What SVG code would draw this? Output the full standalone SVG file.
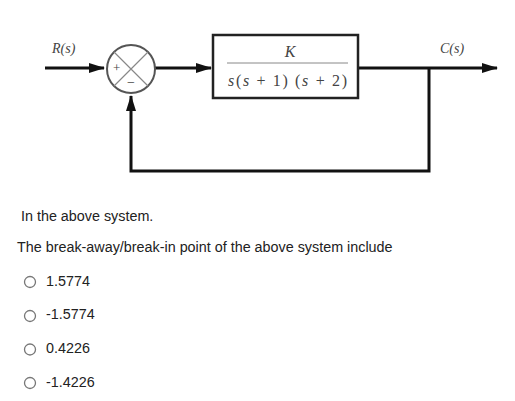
<svg xmlns="http://www.w3.org/2000/svg" width="515" height="401" viewBox="0 0 515 401">
<defs>
<marker id="ah" viewBox="0 0 16 11" refX="15" refY="5.5" markerWidth="16" markerHeight="11" markerUnits="userSpaceOnUse" orient="auto">
<path d="M0,0.5 L16,5.5 L0,10.5 Z" fill="#111"/>
</marker>
<style>
.ln{stroke:#111;stroke-width:3;fill:none}
.lbl{font-family:"Liberation Serif",serif;font-style:italic;font-size:14px;fill:#444}
.tf{font-family:"Liberation Serif",serif;fill:#444}
.q{font-family:"Liberation Sans",Arial,sans-serif;font-size:14.35px;fill:#222}
.rb{fill:#fff;stroke:#777;stroke-width:1.3}
</style>
</defs>
<rect width="515" height="401" fill="#fff"/>
<g id="connectors">
<path class="ln" d="M45,68 L104,68" marker-end="url(#ah)"/>
<path class="ln" d="M155,68 L211,68" marker-end="url(#ah)"/>
<path class="ln" d="M358,68 L497,68" marker-end="url(#ah)"/>
<path class="ln" d="M429,68 L429,171 L131,171 L131,96" marker-end="url(#ah)"/>
</g>
<g id="R">
<text class="lbl" x="52" y="53">R(s)</text>
</g>
<g id="sum">
<circle cx="131" cy="69" r="24" fill="#fff" stroke="#555" stroke-width="2"/>
<path d="M114,52 L148,86 M148,52 L114,86" stroke="#888" stroke-width="1.2"/>
<text x="113" y="72" class="tf" font-size="13">+</text>
<text x="127" y="87" class="tf" font-size="14">−</text>
</g>
<g id="plant">
<rect x="213" y="35" width="145" height="63" fill="#fff" stroke="#222" stroke-width="2.5"/>
<text class="tf" x="290" y="57" font-size="16" font-style="italic" text-anchor="middle">K</text>
<line x1="227" y1="63" x2="348" y2="63" stroke="#888" stroke-width="1"/>
<text class="tf" x="228" y="86" font-size="16" textLength="119" lengthAdjust="spacing"><tspan font-style="italic">s</tspan>(<tspan font-style="italic">s</tspan> + 1) (<tspan font-style="italic">s</tspan> + 2)</text>
</g>
<g id="C">
<text class="lbl" x="440" y="53">C(s)</text>
</g>
<g id="question">
<text class="q" x="21" y="221">In the above system.</text>
<text class="q" x="17" y="252">The break-away/break-in point of the above system include</text>
<circle class="rb" cx="30" cy="282" r="5.5"/>
<text class="q" x="46" y="286">1.5774</text>
<circle class="rb" cx="30" cy="316" r="5.5"/>
<text class="q" x="46" y="319">-1.5774</text>
<circle class="rb" cx="30" cy="349.5" r="5.5"/>
<text class="q" x="46" y="353">0.4226</text>
<circle class="rb" cx="30" cy="383" r="5.5"/>
<text class="q" x="46" y="387">-1.4226</text>
</g>
</svg>
